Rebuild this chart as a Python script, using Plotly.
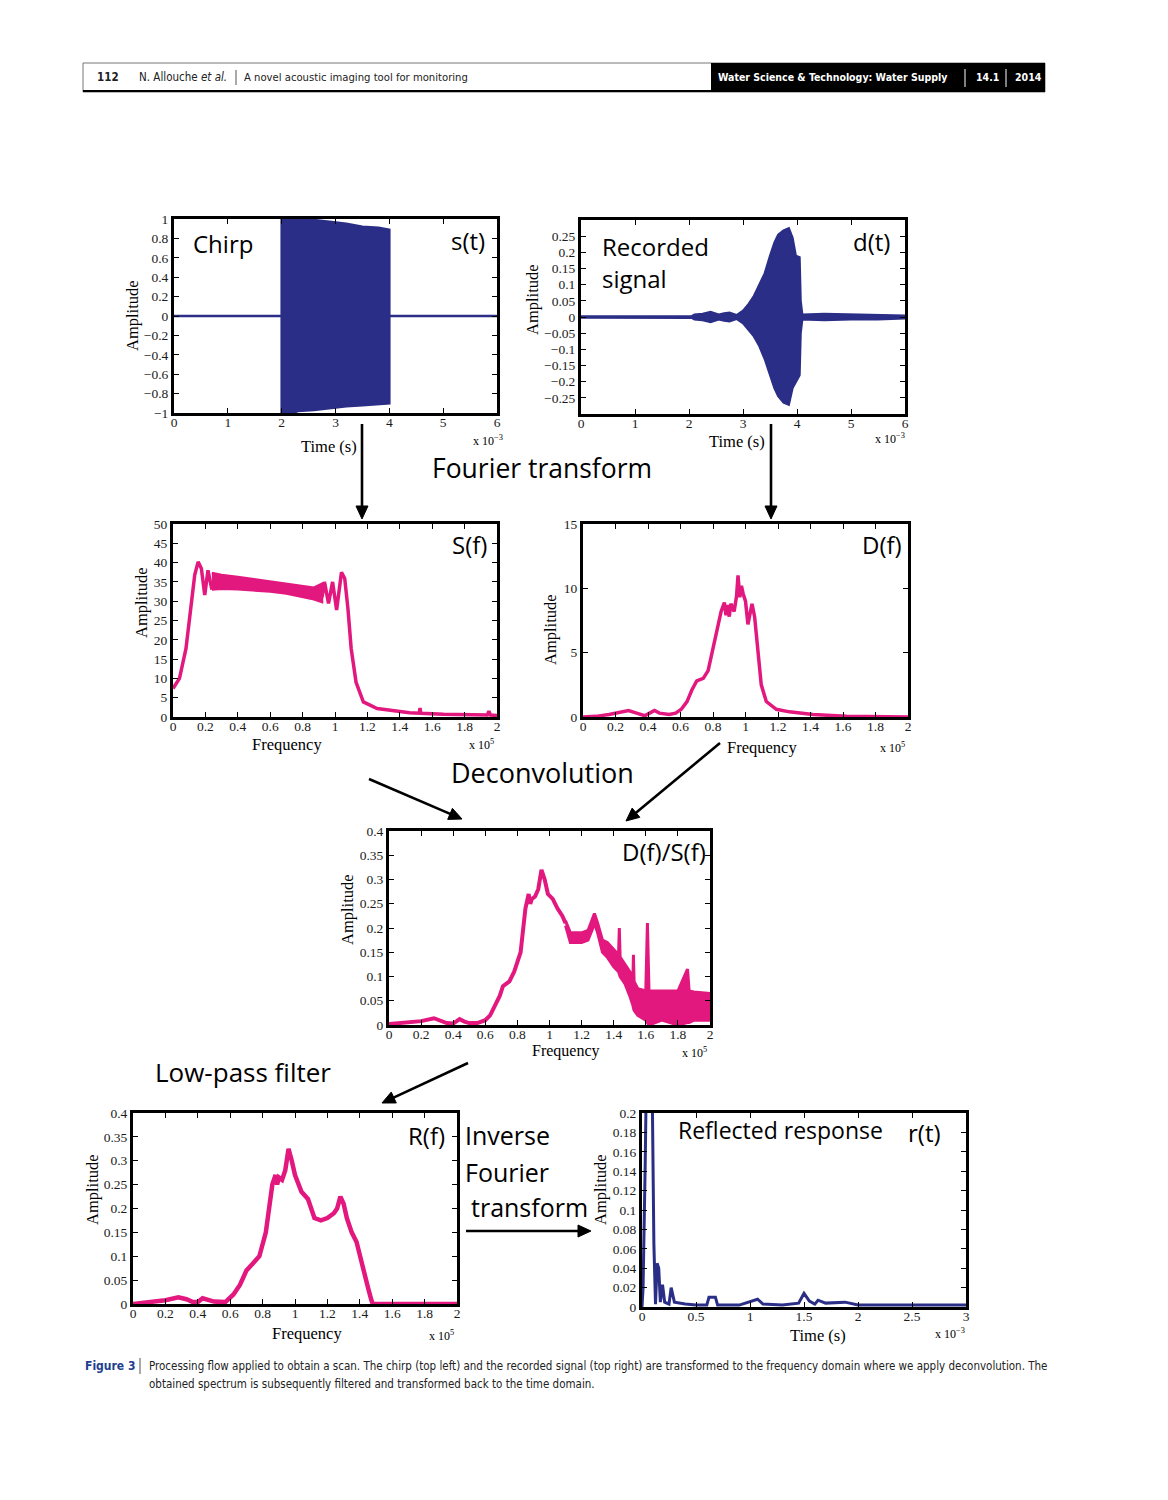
import math
import plotly.graph_objects as go

W, H = 1168, 1500


def X(px):
    return px / W


def Y(py):
    return 1 - py / H


BLUE = '#2B2E86'
PINK = '#E2187F'
SERIF = 'Liberation Serif, Times New Roman, serif'
SANS = 'Open Sans, Noto Sans, sans-serif'
COND = 'Liberation Sans Narrow, DejaVu Sans Condensed, Liberation Sans, sans-serif'

# ---------------- data ----------------
# s(t) chirp envelope, time in units of 1e-3 s
chirp_t = [0, 2.0, 2.0, 2.3, 2.6, 2.9, 3.2, 3.5, 3.8, 4.0, 4.0, 6.0]
chirp_hi = [0, 0, 1.05, 1.05, 0.99, 0.97, 0.95, 0.92, 0.91, 0.89, 0, 0]
chirp_lo = [0, 0, -1.05, -0.98, -0.97, -0.95, -0.93, -0.92, -0.91, -0.90, 0, 0]

# d(t) recorded signal envelope
rec_t = [0, 2.05, 2.1, 2.25, 2.4, 2.55, 2.65, 2.75, 2.88, 3.0, 3.1, 3.2, 3.3, 3.4, 3.5,
         3.58, 3.65, 3.75, 3.85, 3.92, 3.98, 4.05, 4.07, 4.1, 4.5, 5.0, 5.5, 6.0]
rec_hi = [0.002, 0.003, 0.008, 0.010, 0.016, 0.008, 0.012, 0.014, 0.006, 0.02, 0.04, 0.065,
          0.10, 0.135, 0.19, 0.23, 0.255, 0.268, 0.275, 0.245, 0.19, 0.185, 0.05, 0.008,
          0.010, 0.008, 0.008, 0.005]
rec_lo = [-0.002, -0.003, -0.008, -0.010, -0.016, -0.008, -0.012, -0.014, -0.006, -0.02,
          -0.04, -0.06, -0.09, -0.13, -0.18, -0.22, -0.245, -0.265, -0.272, -0.22, -0.2,
          -0.18, -0.05, -0.008, -0.010, -0.008, -0.008, -0.005]

# S(f): frequency in units of 1e5
S_f = [0, 0.04, 0.08, 0.113, 0.134, 0.155, 0.175, 0.196, 0.216, 0.24]
S_amp = [7.4, 10, 17.7, 29, 36.8, 40.2, 38.5, 31.6, 38, 33]
S_band_f = [0.24, 0.3, 0.4, 0.5, 0.6, 0.7, 0.8, 0.87, 0.92]
S_band_hi = [37.3, 36.8, 36.3, 35.7, 35.0, 34.5, 33.9, 33.5, 34.5]
S_band_lo = [33.0, 33.2, 33.1, 32.8, 32.5, 32.0, 31.2, 30.5, 29.8]
S_tail_f = [0.92, 0.935, 0.96, 0.985, 1.01, 1.04, 1.06, 1.08, 1.10, 1.13, 1.175, 1.26, 1.46,
            1.52, 1.525, 1.53, 1.67, 1.94, 1.95, 1.96, 2.0]
S_tail_amp = [31, 35, 29.4, 35, 27.7, 37.5, 35.9, 28, 17.7, 9, 3.9, 2.2, 1.1,
              1.0, 2.3, 0.95, 0.7, 0.5, 1.5, 0.5, 0.4]

# D(f)
D_f = [0, 0.08, 0.16, 0.23, 0.28, 0.33, 0.38, 0.41, 0.44, 0.47, 0.53, 0.57, 0.605, 0.64,
       0.67, 0.70, 0.74, 0.77, 0.80, 0.82, 0.85, 0.87, 0.88, 0.89, 0.90, 0.91, 0.93, 0.945,
       0.954, 0.965, 0.975, 0.985, 1.0, 1.015, 1.03, 1.04, 1.056, 1.077, 1.097, 1.128, 1.19,
       1.27, 1.415, 1.62, 2.0]
D_amp = [0, 0.05, 0.2, 0.4, 0.5, 0.3, 0.1, 0.3, 0.5, 0.3, 0.2, 0.3, 0.6, 1.2, 2.1, 2.8, 3.0,
         3.6, 5.4, 6.5, 8.2, 8.9, 7.9, 8.7, 7.8, 8.8, 8.2, 9.4, 11.0, 9.3, 10.2, 9.6, 9.0,
         7.2, 8.0, 8.8, 7.8, 5.0, 2.5, 1.2, 0.6, 0.4, 0.2, 0.05, 0]

# D(f)/S(f)
DS_f = [0, 0.1, 0.2, 0.28, 0.32, 0.36, 0.4, 0.44, 0.47, 0.5, 0.55, 0.6, 0.63, 0.66, 0.69,
        0.71, 0.75, 0.78, 0.82, 0.85, 0.87, 0.88, 0.89, 0.91, 0.93, 0.95, 0.96, 0.97, 0.99,
        1.02, 1.05, 1.08, 1.10]
DS_amp = [0.002, 0.005, 0.008, 0.014, 0.01, 0.004, 0.003, 0.012, 0.007, 0.004, 0.004, 0.01,
          0.02, 0.04, 0.06, 0.08, 0.09, 0.11, 0.15, 0.24, 0.27, 0.25, 0.26, 0.265, 0.28, 0.32,
          0.31, 0.30, 0.27, 0.26, 0.24, 0.225, 0.21]
DS_band_f = [1.10, 1.13, 1.17, 1.20, 1.24, 1.27, 1.28, 1.30, 1.33, 1.36, 1.40, 1.43, 1.435,
             1.44, 1.47, 1.50, 1.52, 1.523, 1.527, 1.55, 1.60, 1.61, 1.62, 1.70, 1.80, 1.86,
             1.87, 1.90, 2.0]
DS_band_hi = [0.215, 0.19, 0.19, 0.19, 0.195, 0.22, 0.23, 0.21, 0.175, 0.17, 0.155, 0.145,
              0.20, 0.14, 0.125, 0.11, 0.10, 0.145, 0.09, 0.075, 0.07, 0.21, 0.07, 0.07, 0.07,
              0.115, 0.07, 0.068, 0.065]
DS_band_lo = [0.205, 0.17, 0.17, 0.17, 0.175, 0.20, 0.21, 0.19, 0.15, 0.14, 0.12, 0.11, 0.105,
              0.10, 0.085, 0.06, 0.04, 0.035, 0.03, 0.02, 0.01, 0.005, 0.0, 0.01, 0.0, 0.005,
              0.005, 0.01, 0.01]

# R(f)
R_f = [0, 0.1, 0.2, 0.28, 0.33, 0.37, 0.4, 0.43, 0.46, 0.5, 0.57, 0.62, 0.66, 0.7, 0.74,
       0.78, 0.82, 0.86, 0.88, 0.89, 0.9, 0.92, 0.94, 0.96, 0.98, 1.0, 1.04, 1.08, 1.1,
       1.12, 1.16, 1.2, 1.24, 1.26, 1.28, 1.3, 1.32, 1.35, 1.38, 1.4, 1.43, 1.45, 1.47,
       1.48, 2.0]
R_amp = [0, 0.004, 0.008, 0.014, 0.01, 0.004, 0.004, 0.012, 0.008, 0.005, 0.004, 0.02,
         0.04, 0.07, 0.085, 0.10, 0.15, 0.25, 0.27, 0.25, 0.265, 0.26, 0.28, 0.325, 0.30,
         0.27, 0.235, 0.22, 0.20, 0.18, 0.175, 0.18, 0.19, 0.20, 0.225, 0.21, 0.18, 0.15,
         0.13, 0.10, 0.06, 0.035, 0.01, 0, 0]

# r(t), time in units of 1e-3 s
r_t = [0, 0.01, 0.03, 0.045, 0.06, 0.08, 0.095, 0.105, 0.11, 0.125, 0.14, 0.155, 0.17,
       0.19, 0.21, 0.25, 0.27, 0.3, 0.35, 0.4, 0.5, 0.6, 0.62, 0.68, 0.7, 0.9, 1.07, 1.12,
       1.3, 1.45, 1.5, 1.55, 1.6, 1.63, 1.7, 1.88, 2.0, 2.5, 3.0]
r_amp = [0, 0.02, 0.15, 0.3, 0.4, 0.3, 0.22, 0.12, 0.065, 0.003, 0.045, 0.04, 0.005, 0.023,
         0.005, 0.003, 0.02, 0.005, 0.004, 0.003, 0.002, 0.002, 0.01, 0.01, 0.002, 0.002,
         0.008, 0.003, 0.002, 0.004, 0.014, 0.006, 0.003, 0.007, 0.004, 0.005, 0.002, 0.002,
         0.002]

# tick labels
t6_vals = [0, 1, 2, 3, 4, 5, 6]
chirp_yvals = [-1, -0.8, -0.6, -0.4, -0.2, 0, 0.2, 0.4, 0.6, 0.8, 1]
chirp_ytext = ['\u22121', '\u22120.8', '\u22120.6', '\u22120.4', '\u22120.2', '0', '0.2',
               '0.4', '0.6', '0.8', '1']
rec_yvals = [-0.25, -0.2, -0.15, -0.1, -0.05, 0, 0.05, 0.1, 0.15, 0.2, 0.25]
rec_ytext = ['\u22120.25', '\u22120.2', '\u22120.15', '\u22120.1', '\u22120.05', '0', '0.05',
             '0.1', '0.15', '0.2', '0.25']
f_vals = [0, 0.2, 0.4, 0.6, 0.8, 1, 1.2, 1.4, 1.6, 1.8, 2]
f_text = ['0', '0.2', '0.4', '0.6', '0.8', '1', '1.2', '1.4', '1.6', '1.8', '2']
S_yvals = [0, 5, 10, 15, 20, 25, 30, 35, 40, 45, 50]
D_yvals = [0, 5, 10, 15]
q_yvals = [0, 0.05, 0.1, 0.15, 0.2, 0.25, 0.3, 0.35, 0.4]
q_ytext = ['0', '0.05', '0.1', '0.15', '0.2', '0.25', '0.3', '0.35', '0.4']
rt_xvals = [0, 0.5, 1, 1.5, 2, 2.5, 3]
rt_xtext = ['0', '0.5', '1', '1.5', '2', '2.5', '3']
rt_yvals = [0, 0.02, 0.04, 0.06, 0.08, 0.1, 0.12, 0.14, 0.16, 0.18, 0.2]
rt_ytext = ['0', '0.02', '0.04', '0.06', '0.08', '0.1', '0.12', '0.14', '0.16', '0.18', '0.2']

# ---------------- panels: pixel boxes (left, right, top, bottom) ----------------
panels = [
    dict(box=(174, 497, 219, 413), xr=[0, 6], yr=[-1, 1],
         xt=(t6_vals, [str(v) for v in t6_vals]), yt=(chirp_yvals, chirp_ytext)),
    dict(box=(581, 905, 220, 414), xr=[0, 6], yr=[-0.3, 0.3],
         xt=(t6_vals, [str(v) for v in t6_vals]), yt=(rec_yvals, rec_ytext)),
    dict(box=(173, 497, 524, 717), xr=[0, 2], yr=[0, 50],
         xt=(f_vals, f_text), yt=(S_yvals, [str(v) for v in S_yvals])),
    dict(box=(583, 908, 524, 717), xr=[0, 2], yr=[0, 15],
         xt=(f_vals, f_text), yt=(D_yvals, [str(v) for v in D_yvals])),
    dict(box=(389, 710, 831, 1025), xr=[0, 2], yr=[0, 0.4],
         xt=(f_vals, f_text), yt=(q_yvals, q_ytext)),
    dict(box=(133, 457, 1113, 1304), xr=[0, 2], yr=[0, 0.4],
         xt=(f_vals, f_text), yt=(q_yvals, q_ytext)),
    dict(box=(642, 966, 1113, 1307), xr=[0, 3], yr=[0, 0.2],
         xt=(rt_xvals, rt_xtext), yt=(rt_yvals, rt_ytext)),
]

fig = go.Figure()
layout = dict(width=W, height=H, autosize=False,
              margin=dict(l=0, r=0, t=0, b=0, pad=0, autoexpand=False),
              paper_bgcolor='white', plot_bgcolor='white', showlegend=False)

tickfont = dict(family=SERIF, size=13.5, color='#1a1a1a')
for i, p in enumerate(panels, start=1):
    l, r, t, b = p['box']
    sfx = '' if i == 1 else str(i)
    layout['xaxis' + sfx] = dict(
        domain=[X(l), X(r)], range=p['xr'], anchor='y' + sfx, automargin=False,
        tickmode='array', tickvals=p['xt'][0], ticktext=p['xt'][1],
        ticks='inside', ticklen=5, tickwidth=1, tickcolor='black',
        showline=True, linewidth=3, linecolor='black', mirror='ticks',
        showgrid=False, zeroline=False, tickfont=tickfont, fixedrange=True,
        ticklabelstandoff=-5)
    layout['yaxis' + sfx] = dict(
        domain=[Y(b), Y(t)], range=p['yr'], anchor='x' + sfx, automargin=False,
        tickmode='array', tickvals=p['yt'][0], ticktext=p['yt'][1],
        ticks='inside', ticklen=5, tickwidth=1, tickcolor='black',
        showline=True, linewidth=3, linecolor='black', mirror='ticks',
        showgrid=False, zeroline=False, tickfont=tickfont, fixedrange=True)


def band(xs, hi, lo):
    return list(xs) + list(xs)[::-1], list(hi) + list(lo)[::-1]


# s(t)
bx, by = band(chirp_t, chirp_hi, chirp_lo)
fig.add_trace(go.Scatter(x=bx, y=by, fill='toself', fillcolor=BLUE, mode='lines',
                         line=dict(color=BLUE, width=2.5), xaxis='x', yaxis='y'))
# d(t)
bx, by = band(rec_t, rec_hi, rec_lo)
fig.add_trace(go.Scatter(x=bx, y=by, fill='toself', fillcolor=BLUE, mode='lines',
                         line=dict(color=BLUE, width=2), xaxis='x2', yaxis='y2'))
# S(f)
bx, by = band(S_band_f, S_band_hi, S_band_lo)
fig.add_trace(go.Scatter(x=bx, y=by, fill='toself', fillcolor=PINK, mode='lines',
                         line=dict(color=PINK, width=2.5), xaxis='x3', yaxis='y3'))
fig.add_trace(go.Scatter(x=S_f, y=S_amp, mode='lines', line=dict(color=PINK, width=3.5),
                         xaxis='x3', yaxis='y3'))
fig.add_trace(go.Scatter(x=S_tail_f, y=S_tail_amp, mode='lines',
                         line=dict(color=PINK, width=3.5), xaxis='x3', yaxis='y3'))
# D(f)
fig.add_trace(go.Scatter(x=D_f, y=D_amp, mode='lines', line=dict(color=PINK, width=3.5),
                         xaxis='x4', yaxis='y4'))
# D(f)/S(f)
fig.add_trace(go.Scatter(x=DS_f, y=DS_amp, mode='lines', line=dict(color=PINK, width=4),
                         xaxis='x5', yaxis='y5'))
bx, by = band(DS_band_f, DS_band_hi, DS_band_lo)
fig.add_trace(go.Scatter(x=bx, y=by, fill='toself', fillcolor=PINK, mode='lines',
                         line=dict(color=PINK, width=3), xaxis='x5', yaxis='y5'))
# R(f)
fig.add_trace(go.Scatter(x=R_f, y=R_amp, mode='lines', line=dict(color=PINK, width=4.5),
                         xaxis='x6', yaxis='y6'))
# r(t)
fig.add_trace(go.Scatter(x=r_t, y=r_amp, mode='lines', line=dict(color=BLUE, width=3),
                         xaxis='x7', yaxis='y7'))

ann = []
shapes = []


def text(x, y, s, size, family=SANS, xanchor='center', yanchor='middle', color='black',
         angle=0):
    ann.append(dict(x=X(x), y=Y(y), xref='paper', yref='paper', text=s, showarrow=False,
                    xanchor=xanchor, yanchor=yanchor, textangle=angle,
                    font=dict(family=family, size=size, color=color)))


def arrow(tipx, tipy, tailx, taily, head=13.0, half=6.0, width=2.6):
    dx, dy = tipx - tailx, tipy - taily
    length = math.hypot(dx, dy)
    ux, uy = dx / length, dy / length
    bxp, byp = tipx - ux * head, tipy - uy * head
    shapes.append(dict(type='line', xref='paper', yref='paper',
                       x0=X(tailx), y0=Y(taily), x1=X(bxp + ux * 2), y1=Y(byp + uy * 2),
                       line=dict(color='black', width=width)))
    px, py = -uy, ux
    pts = [(tipx, tipy), (bxp + px * half, byp + py * half), (bxp - px * half, byp - py * half)]
    path = 'M {:.5f} {:.5f} L {:.5f} {:.5f} L {:.5f} {:.5f} Z'.format(
        X(pts[0][0]), Y(pts[0][1]), X(pts[1][0]), Y(pts[1][1]), X(pts[2][0]), Y(pts[2][1]))
    shapes.append(dict(type='path', xref='paper', yref='paper', path=path,
                       fillcolor='black', line=dict(color='black', width=1)))


# axis titles
for (ax_x, ax_y) in [(132, 316), (533, 300), (141, 603), (551, 630), (347, 910), (92, 1190),
                     (600, 1190)]:
    text(ax_x, ax_y, 'Amplitude', 16.5, SERIF, angle=-90)
for (tx, ty, s, fs) in [(329, 446, 'Time (s)', 16.5), (737, 442, 'Time (s)', 16.5),
                        (287, 745, 'Frequency', 16.5), (762, 748, 'Frequency', 16.5),
                        (566, 1051, 'Frequency', 16), (307, 1333, 'Frequency', 16.5),
                        (818, 1335, 'Time (s)', 16.5)]:
    text(tx, ty, s, fs, SERIF)
for (ex, ey, s) in [(488, 440, 'x 10<sup>\u22123</sup>'), (890, 438, 'x 10<sup>\u22123</sup>'),
                    (481, 745, 'x 10<sup>5</sup>'), (892, 747, 'x 10<sup>5</sup>'),
                    (694, 1052, 'x 10<sup>5</sup>'), (441, 1335, 'x 10<sup>5</sup>'),
                    (950, 1333, 'x 10<sup>\u22123</sup>')]:
    text(ex, ey, s, 12, SERIF)

# panel labels
text(191, 243, 'Chirp', 24, xanchor='left')
text(487, 240, 's(t)', 24, xanchor='right')
text(600, 247, 'Recorded', 24, xanchor='left')
text(600, 278, 'signal', 24, xanchor='left')
text(892, 241, 'd(t)', 24, xanchor='right')
text(489, 545, 'S(f)', 24, xanchor='right')
text(904, 545, 'D(f)', 24, xanchor='right')
text(708, 851, 'D(f)/S(f)', 24, xanchor='right')
text(447, 1135, 'R(f)', 24, xanchor='right')
text(676, 1130, 'Reflected response', 23, xanchor='left')
text(943, 1132, 'r(t)', 24, xanchor='right')

# flow labels
text(542, 468, 'Fourier transform', 26.5)
text(542, 772, 'Deconvolution', 27)
text(243, 1072, 'Low-pass filter', 26)
text(463, 1135, 'Inverse', 25, xanchor='left')
text(463, 1172, 'Fourier', 25, xanchor='left')
text(469, 1207, 'transform', 25, xanchor='left')

# arrows (tip, tail) in page pixels
for (tipx, tipy, tailx, taily) in [(362, 519, 362, 424), (771, 519, 771, 424),
                                   (462, 819, 369, 779), (626, 821, 720, 743),
                                   (382, 1103, 468, 1063), (591, 1231, 466, 1231)]:
    arrow(tipx, tipy, tailx, taily)

# header
shapes.append(dict(type='rect', xref='paper', yref='paper', x0=X(83), x1=X(1045), y0=Y(92),
                   y1=Y(63), line=dict(color='#777', width=1)))
shapes.append(dict(type='rect', xref='paper', yref='paper', x0=X(711), x1=X(1045), y0=Y(92),
                   y1=Y(63), fillcolor='black', line=dict(color='black', width=0)))
shapes.append(dict(type='line', xref='paper', yref='paper', x0=X(83), x1=X(711), y0=Y(91),
                   y1=Y(91), line=dict(color='black', width=2)))
shapes.append(dict(type='line', xref='paper', yref='paper', x0=X(236), x1=X(236), y0=Y(70),
                   y1=Y(85), line=dict(color='#555', width=1)))
for sx in (965, 1006):
    shapes.append(dict(type='line', xref='paper', yref='paper', x0=X(sx), x1=X(sx), y0=Y(69),
                       y1=Y(87), line=dict(color='white', width=1)))
text(95, 77, '<b>112</b>', 11.5, COND, xanchor='left', color='#222')
text(137, 77, 'N. Allouche <i>et al.</i>', 11.5, COND, xanchor='left', color='#222')
text(242, 77, 'A novel acoustic imaging tool for monitoring', 11.2, COND, xanchor='left',
     color='#222')
text(716, 77, '<b>Water Science &amp; Technology: Water Supply</b>', 10.5, COND,
     xanchor='left', color='white')
text(974, 77, '<b>14.1</b>', 10.5, COND, xanchor='left', color='white')
text(1013, 77, '<b>2014</b>', 10.5, COND, xanchor='left', color='white')

# caption
text(83, 1366, '<b>Figure 3</b>', 12, COND, xanchor='left', color='#1E3F8F')
shapes.append(dict(type='line', xref='paper', yref='paper', x0=X(140), x1=X(140),
                   y0=Y(1374), y1=Y(1358), line=dict(color='#555', width=1)))
text(147, 1366, 'Processing flow applied to obtain a scan. The chirp (top left) and the '
     'recorded signal (top right) are transformed to the frequency domain where we apply '
     'deconvolution. The', 11.5, COND, xanchor='left', color='#222')
text(147, 1384, 'obtained spectrum is subsequently filtered and transformed back to the '
     'time domain.', 11.5, COND, xanchor='left', color='#222')

layout['annotations'] = ann
layout['shapes'] = shapes
fig.update_layout(**layout)
fig.write_html('out.html')
